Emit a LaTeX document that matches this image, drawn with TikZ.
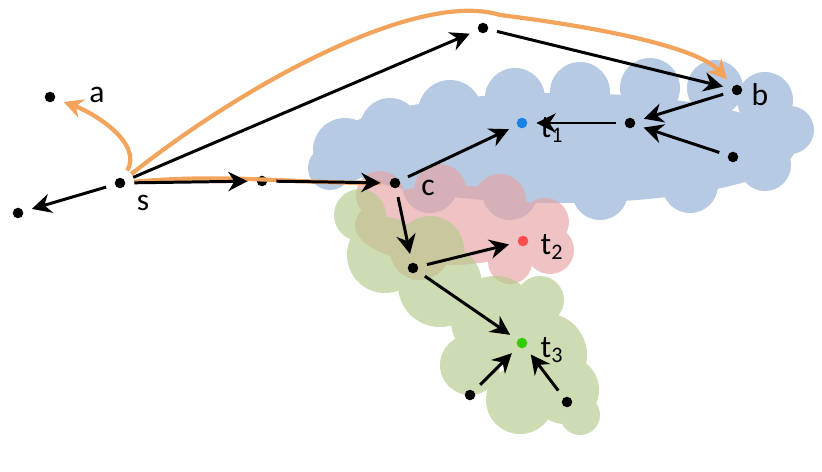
\documentclass[tikz,border=0pt]{standalone}
\usepackage{fontspec}
\setmainfont{Carlito}
\usetikzlibrary{arrows.meta}
\definecolor{bcl}{HTML}{9DB8DA}
\definecolor{rcl}{HTML}{E6A3A3}
\definecolor{gcl}{HTML}{B3C98C}
\definecolor{org}{HTML}{F2A45C}
\begin{document}
\begin{tikzpicture}[x=0.02cm,y=-0.02cm,
  dot/.style={circle,fill=black,inner sep=0pt,minimum size=6pt},
  cdot/.style={circle,fill=#1,inner sep=0pt,minimum size=6pt},
  arr/.style={line width=1.7pt,-{Stealth[length=11pt,width=11pt]},shorten >=5pt,shorten <=5pt},
  oarr/.style={line width=2.4pt,color=org,-{Stealth[length=11pt,width=11pt]},shorten >=5pt,shorten <=5pt},
  lab/.style={font=\fontsize{18}{18}\selectfont,inner sep=0pt}]
\useasboundingbox (0,0) rectangle (822,471);
% clouds
\begin{scope}[transparency group,opacity=0.75]
\fill[bcl] (560,148) ellipse (235 and 55);
\fill[bcl] (345,150) circle (32) (390,128) circle (30) (450,112) circle (32) (515,98) circle (30)
 (580,92) circle (30) (650,88) circle (30) (715,88) circle (28) (765,100) circle (28)
 (790,130) circle (24) (765,165) circle (26) (690,185) circle (28) (600,192) circle (28)
 (510,192) circle (28) (430,185) circle (28) (330,168) circle (22);
\end{scope}
\begin{scope}[transparency group,opacity=0.65]
\fill[rcl] (450,225) ellipse (95 and 40);
\fill[rcl] (380,195) circle (24) (440,190) circle (26) (500,200) circle (26) (545,222) circle (24)
 (550,250) circle (24) (510,262) circle (22) (420,250) circle (30);
\end{scope}
\begin{scope}[transparency group,opacity=0.65]
\fill[gcl] (360,215) circle (26) (385,255) circle (38) (440,285) circle (42)
 (495,320) circle (44) (545,355) circle (42) (565,390) circle (34) (520,400) circle (34)
 (580,415) circle (20) (430,250) circle (34) (470,365) circle (30) (540,300) circle (24);
\end{scope}
% nodes
\node[dot] (s) at (120,183) {};
\node[dot] (a) at (50,97) {};
\node[dot] (l) at (18,213) {};
\node[dot] (top) at (483,28) {};
\node[dot] (b) at (737,90) {};
\node[dot] (m) at (630,123) {};
\node[dot] (r) at (733,157) {};
\node[cdot=blue!50!cyan!80!gray] (t1) at (522,123) {};
\node[dot] (d) at (262,181) {};
\node[dot] (c) at (395,183) {};
\node[dot] (e) at (413,268) {};
\node[cdot=red!70] (t2) at (523,241) {};
\node[cdot=green!60!olive] (t3) at (522,343) {};
\node[dot] (f) at (470,395) {};
\node[dot] (g) at (567,402) {};
% labels
\node[lab] (ls) at (143,203) {s};
\node[lab] (la) at (97,95) {a};
\node[lab] (lb) at (760,95) {b};
\node[lab] (lc) at (428,188) {c};
\node[lab] (lt1) at (552,130) {t\textsubscript{1}};
\node[lab] (lt2) at (552,247) {t\textsubscript{2}};
\node[lab] (lt3) at (552,350) {t\textsubscript{3}};
% orange paths
\draw[oarr] (s) to[out=60,in=-20] (a);
\draw[oarr] (s) .. controls (250,80) and (420,-10) .. (500,15) .. controls (620,30) and (700,50) .. (b);
\draw[line width=2.4pt,color=org,shorten <=5pt,shorten >=5pt] (s) to[out=5,in=180] (c);
% black arrows
\draw[arr] (s) -- (l);
\draw[arr] (s) -- (top);
\draw[arr] (top) -- (b);
\draw[arr] (s) -- (d);
\draw[arr] (d) -- (c);
\draw[arr] (c) -- (t1);
\draw[arr] (m) -- (t1);
\draw[arr] (b) -- (m);
\draw[arr] (r) -- (m);
\draw[arr] (c) -- (e);
\draw[arr] (e) -- (t2);
\draw[arr] (e) -- (t3);
\draw[arr] (f) -- (t3);
\draw[arr] (g) -- (t3);
\end{tikzpicture}
\end{document}
